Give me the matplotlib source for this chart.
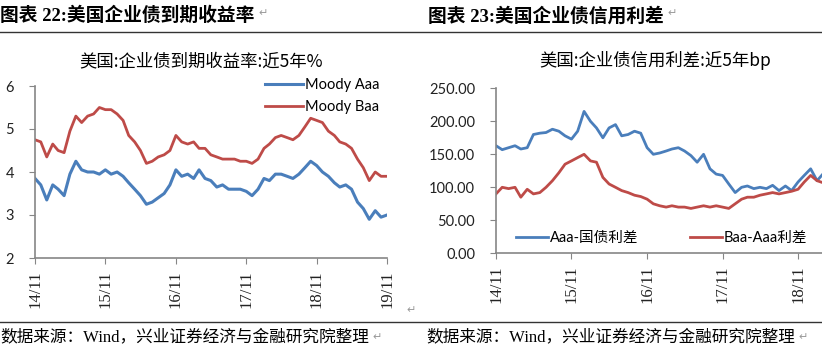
import matplotlib.pyplot as plt
import pandas as pd
from matplotlib.lines import Line2D
from matplotlib.ticker import FormatStrFormatter

# left chart: Moody yields, monthly readings 2014/11 - 2019/11
months_l = pd.date_range("2014-11-01", periods=61, freq="MS")
moody_aaa = [3.85, 3.70, 3.35, 3.70, 3.60, 3.45, 3.95, 4.25, 4.05, 4.00,
             4.00, 3.95, 4.05, 3.95, 4.00, 3.90, 3.75, 3.60, 3.45, 3.25,
             3.30, 3.40, 3.50, 3.70, 4.05, 3.90, 3.95, 3.85, 4.05, 3.85,
             3.80, 3.65, 3.70, 3.60, 3.60, 3.60, 3.55, 3.45, 3.60, 3.85,
             3.80, 3.95, 3.95, 3.90, 3.85, 3.95, 4.10, 4.25, 4.15, 4.00,
             3.90, 3.75, 3.65, 3.70, 3.60, 3.30, 3.15, 2.90, 3.10, 2.95,
             3.00]
moody_baa = [4.75, 4.70, 4.35, 4.65, 4.50, 4.45, 4.95, 5.30, 5.15, 5.30,
             5.35, 5.50, 5.45, 5.45, 5.35, 5.20, 4.85, 4.70, 4.50, 4.20,
             4.25, 4.35, 4.40, 4.50, 4.85, 4.70, 4.65, 4.70, 4.55, 4.55,
             4.40, 4.35, 4.30, 4.30, 4.30, 4.25, 4.25, 4.20, 4.30, 4.55,
             4.65, 4.80, 4.85, 4.80, 4.75, 4.85, 5.05, 5.25, 5.20, 5.15,
             4.95, 4.85, 4.70, 4.65, 4.55, 4.30, 4.10, 3.80, 4.00, 3.90,
             3.90]

# right chart: spreads (bp), visible part only
months_r = pd.date_range("2014-11-01", periods=53, freq="MS")
aaa_spread = [163, 157, 160, 163, 158, 160, 180, 182, 183, 188,
              185, 178, 173, 185, 215, 200, 190, 175, 190, 195,
              178, 180, 185, 182, 160, 150, 152, 155, 158, 160,
              155, 148, 138, 150, 128, 120, 118, 105, 92, 100,
              102, 98, 100, 98, 103, 95, 102, 95, 108, 118,
              128, 110, 120]
baa_aaa_spread = [90, 100, 98, 100, 85, 97, 90, 92, 100, 110,
                  122, 135, 140, 145, 150, 140, 138, 115, 105, 100,
                  95, 92, 88, 86, 82, 75, 72, 70, 72, 70,
                  70, 68, 70, 72, 70, 72, 70, 68, 75, 82,
                  85, 85, 88, 90, 92, 90, 92, 94, 97, 108,
                  118, 110, 107]

year_ticks = pd.date_range("2014-11-01", "2019-11-01", freq="12MS")

BLUE = "#4a7ebb"
RED = "#be4b48"
GRAY = "#868686"
W, H = 822, 359
CJK = ["Noto Sans CJK SC", "DejaVu Sans"]
SERIF_CJK = ["Liberation Serif", "Noto Sans CJK SC", "DejaVu Sans"]
SANS_CJK = ["Lato", "Noto Sans CJK SC", "DejaVu Sans"]


def box(x0, y0, x1, y1):
    return [x0 / W, 1 - y1 / H, (x1 - x0) / W, (y1 - y0) / H]


def ftext(x, y, s, **kw):
    fig.text(x / W, 1 - y / H, s, **kw)


fig = plt.figure(figsize=(8.22, 3.59), dpi=100)

# headers, rules, footers
ftext(0, 16, "图表 22:美国企业债到期收益率", family=SERIF_CJK, fontsize=13.5,
      weight="bold", va="center")
ftext(428, 16, "图表 23:美国企业债信用利差", family=SERIF_CJK, fontsize=13.5,
      weight="bold", va="center")
ftext(258, 13, "↵", fontsize=8, color="#999999", va="center")
ftext(667, 13, "↵", fontsize=8, color="#999999", va="center")
for y in (32, 322):
    fig.add_artist(Line2D([0, 1], [1 - y / H] * 2, color="#333333", lw=1))
ftext(0, 337, "数据来源：Wind，兴业证券经济与金融研究院整理", family=SERIF_CJK,
      fontsize=12, va="center")
ftext(426, 337, "数据来源：Wind，兴业证券经济与金融研究院整理", family=SERIF_CJK,
      fontsize=12, va="center")
ftext(372, 337, "↵", fontsize=8, color="#999999", va="center")
ftext(798, 337, "↵", fontsize=8, color="#999999", va="center")
ftext(406, 310, "↵", fontsize=8, color="#999999", va="center")

ftext(201, 61, "美国:企业债到期收益率:近5年%", family=CJK, fontsize=12.5,
      ha="center", va="center")
ftext(655, 61, "美国:企业债信用利差:近5年bp", family=CJK, fontsize=12.5,
      ha="center", va="center")

ax1 = fig.add_axes(box(35, 86, 387, 258))
ax2 = fig.add_axes(box(496, 88.3, 873.5, 253.3))

ax1.plot(months_l, moody_aaa, color=BLUE, lw=2.2, label="Moody Aaa")
ax1.plot(months_l, moody_baa, color=RED, lw=2.0, label="Moody Baa")
ax1.set_ylim(2, 6)
ax1.set_yticks([2, 3, 4, 5, 6])
ax1.set_xlim(months_l[0], months_l[-1])

ax2.plot(months_r, aaa_spread, color=BLUE, lw=2.0, label="Aaa-国债利差")
ax2.plot(months_r, baa_aaa_spread, color=RED, lw=2.0, label="Baa-Aaa利差")
ax2.set_ylim(0, 250)
ax2.set_yticks([0, 50, 100, 150, 200, 250])
ax2.yaxis.set_major_formatter(FormatStrFormatter("%.2f"))
ax2.set_xlim(year_ticks[0], year_ticks[-1])

# the right panel is cut at the page edge, so its last tick is not shown
for ax, ticks in ((ax1, year_ticks), (ax2, year_ticks[:-1])):
    ax.set_xticks(ticks)
    ax.set_xticklabels([d.strftime("%y/%m") for d in ticks], rotation=90,
                       family="Liberation Serif", fontsize=12)
    for s in ("top", "right"):
        ax.spines[s].set_visible(False)
    for s in ("left", "bottom"):
        ax.spines[s].set_color(GRAY)
        ax.spines[s].set_linewidth(1.2)
    ax.tick_params(axis="both", direction="out", length=4, color=GRAY,
                   labelcolor="#222222")
    ax.tick_params(axis="x", pad=5)
    ax.tick_params(axis="y", pad=11)
    for lab in ax.get_yticklabels():
        lab.set_family("Lato")
        lab.set_fontsize(10.5)
    ax.patch.set_alpha(0)

ax1.legend(loc="center left", bbox_to_anchor=(0.653, 0.942), frameon=False,
           prop={"family": SANS_CJK, "size": 10.5}, handlelength=2.6,
           handletextpad=0.15, labelspacing=0.55, borderpad=0, borderaxespad=0)
ax2.legend(loc="center left", bbox_to_anchor=(0.053, 0.093), frameon=False,
           prop={"family": SANS_CJK, "size": 10.5}, handlelength=2.2,
           handletextpad=0.15, columnspacing=3.5, ncol=2, borderpad=0,
           borderaxespad=0)

fig.savefig("out.png", dpi=100)
